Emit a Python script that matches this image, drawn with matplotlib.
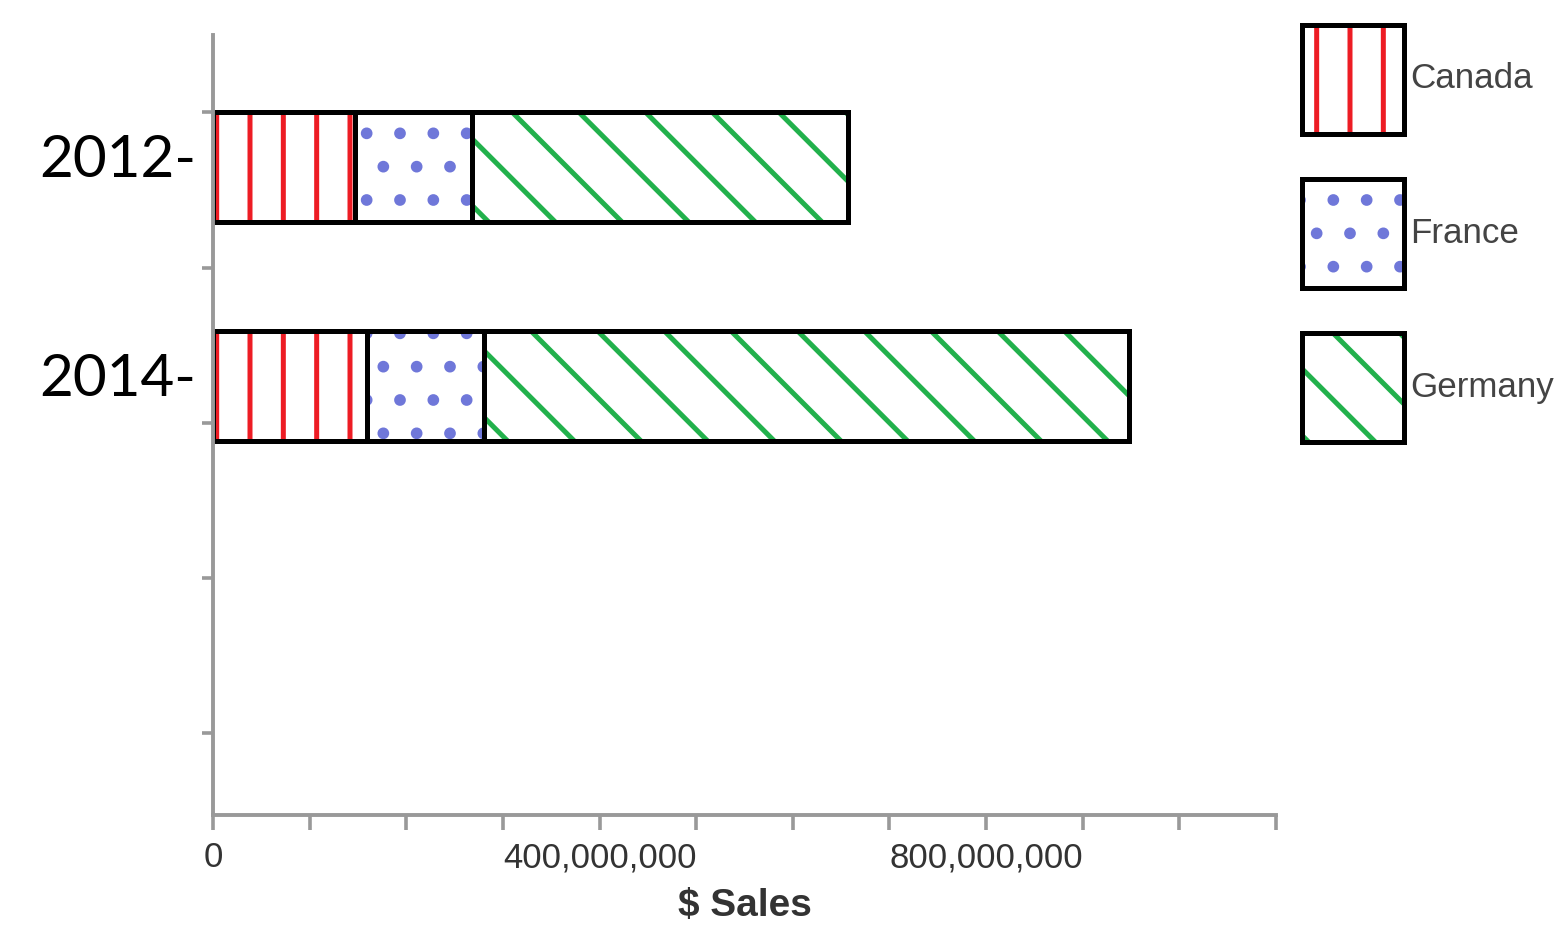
import numpy as np
import matplotlib
matplotlib.use("Agg")
import matplotlib.pyplot as plt
from matplotlib.ticker import FixedLocator, FuncFormatter
from matplotlib.legend_handler import HandlerTuple
from matplotlib.transforms import ScaledTranslation

# data
years = ["2012-", "2014-"]
countries = ["Canada", "France", "Germany"]
canada = [147e6, 159e6]
france = [121e6, 121e6]
germany = [389e6, 668e6]

hatch_colors = ["#ED1C24", "#6F77D9", "#22B14C"]
hatches = ["|", ".", "\\"]

plt.rcParams["font.family"] = ["Liberation Sans", "DejaVu Sans"]
plt.rcParams["hatch.linewidth"] = 1.8

fig = plt.figure(figsize=(7.79, 4.63), dpi=200)
ax = fig.add_axes([0.1367, 0.1199, 0.819 - 0.1367, 0.962 - 0.1199])

y = np.arange(len(years))
h = 0.50
left = np.zeros(len(years))
handles = []
for name, vals, hc, ht in zip(countries, [canada, france, germany], hatch_colors, hatches):
    hb = ax.barh(y, vals, height=h, left=left, color="white", edgecolor=hc,
                 hatch=ht, linewidth=0)
    eb = ax.barh(y, vals, height=h, left=left, fill=False, edgecolor="black",
                 linewidth=1.8)
    handles.append((hb[0], eb[0]))
    left = left + np.array(vals)

ax.set_xlim(0, 1.1e9)
ax.set_ylim(2.959, -0.603)

ax.xaxis.set_major_locator(FixedLocator([0, 4e8, 8e8]))
ax.xaxis.set_minor_locator(FixedLocator(np.arange(1e8, 1.2e9, 1e8)))
ax.xaxis.set_major_formatter(FuncFormatter(lambda v, p: f"{v:,.0f}"))
ax.tick_params(axis="x", which="both", length=5.5, width=1.3, color="#999999",
               labelsize=12.5, labelcolor="#333333", pad=4)

ax.set_yticks(y)
ax.set_yticklabels(years, fontsize=21, family="Lato")
ax.yaxis.set_minor_locator(FixedLocator([-0.251, 0.461, 1.169, 1.877, 2.584]))
ax.tick_params(axis="y", which="major", length=0, pad=6)
ax.tick_params(axis="y", which="minor", length=4, width=1.3, color="#999999")
# year labels sit a little above the bar centres in the original
shift = ScaledTranslation(0, 12 / 200, fig.dpi_scale_trans)
for t in ax.get_yticklabels():
    t.set_transform(t.get_transform() + shift)

for s in ["top", "right"]:
    ax.spines[s].set_visible(False)
for s in ["left", "bottom"]:
    ax.spines[s].set_color("#999999")
    ax.spines[s].set_linewidth(1.4)

ax.set_xlabel("\\$ Sales", fontsize=14, fontweight="bold", color="#333333", labelpad=5)

fig.legend(handles, countries, handler_map={tuple: HandlerTuple(ndivide=1)},
           loc="upper left", bbox_to_anchor=(1302 / 1558, 1 - 25 / 926),
           frameon=False, fontsize=12.6, labelcolor="#444444",
           handlelength=2.9, handleheight=4.4, labelspacing=1.3,
           handletextpad=0.2, borderpad=0, borderaxespad=0)

fig.savefig("out.png", dpi=200)
